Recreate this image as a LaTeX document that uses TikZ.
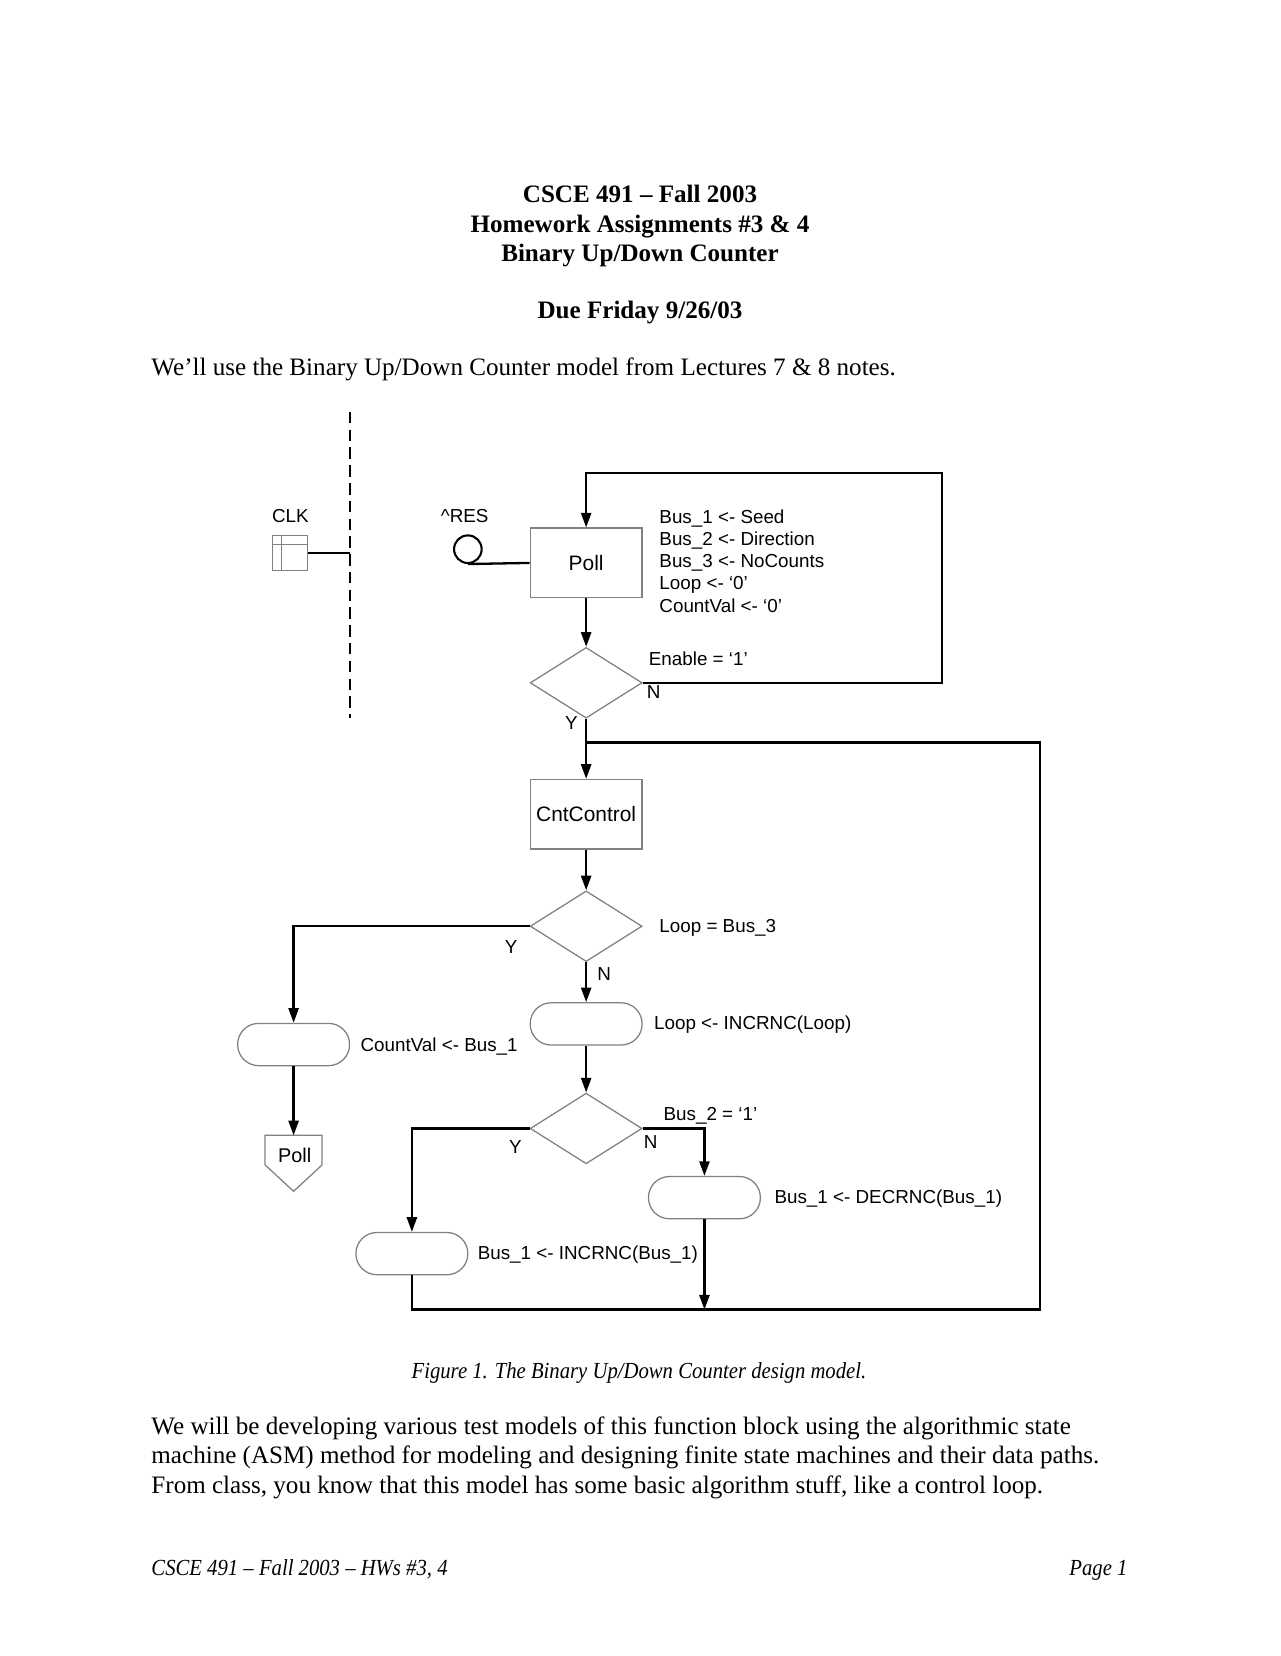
\documentclass[tikz,border=0pt]{standalone}
\usepackage{fontspec}
\setmainfont{Liberation Serif}
\setsansfont{Liberation Sans}
\newfontfamily\narrowserif[FakeStretch=0.9]{Liberation Serif}
\usetikzlibrary{shapes.geometric,arrows.meta}

\tikzset{
  statebox/.style={draw=gray, line width=0.6pt, minimum width=53.5pt, minimum height=33.3pt, inner sep=0pt, font=\sffamily\fontsize{10}{12}\selectfont},
  decision/.style={draw=gray, diamond, line width=0.6pt, minimum width=53.5pt, minimum height=33.8pt, inner sep=0pt},
  condout/.style={draw=gray, rounded corners=10pt, line width=0.6pt, minimum width=53.5pt, minimum height=20.2pt, inner sep=0pt},
  lbl/.style={font=\sffamily\fontsize{9}{10.6}\selectfont, inner sep=0pt},
  flow/.style={line width=1.1pt, -{Triangle[length=7pt,width=4.8pt]}},
  wire/.style={line width=1.1pt},
  page/.style={font=\fontsize{12}{14}\selectfont, inner sep=0pt},
  note/.style={font=\narrowserif\itshape\fontsize{11}{13}\selectfont, inner sep=0pt},
}

\begin{document}
\begin{tikzpicture}[x=0.505pt, y=-0.505pt]
    \fill[white] (0,0) rectangle (1212,1568);
    \useasboundingbox (0,0) rectangle (1212,1568);

    % header
    \node[page, font=\bfseries\fontsize{12}{14}\selectfont, anchor=base] (title1) at (606,192) {CSCE 491 – Fall 2003};
    \node[page, font=\bfseries\fontsize{12}{14}\selectfont, anchor=base] (title2) at (606,220) {Homework Assignments \#3 \& 4};
    \node[page, font=\bfseries\fontsize{12}{14}\selectfont, anchor=base] (title3) at (606,248) {Binary Up/Down Counter};
    \node[page, font=\bfseries\fontsize{12}{14}\selectfont, anchor=base] (due) at (606,302) {Due Friday 9/26/03};
    \node[page, anchor=base west] (intro) at (143,356) {We’ll use the Binary Up/Down Counter model from Lectures 7 \& 8 notes.};

    % clock and reset
    \draw[line width=1pt, dash pattern=on 5.5pt off 3pt] (331,390) coordinate (dtop) -- (331,680) coordinate (dbot);
    \node[lbl, anchor=base] (clklbl) at (275,494.5) {CLK};
    \node[draw=gray, line width=0.5pt, minimum size=16.7pt, inner sep=0pt] (clk) at (274.5,523.5) {};
    \draw[gray, line width=0.5pt] (266.5,507) -- (266.5,540);
    \draw[gray, line width=0.5pt] (258,515.5) -- (291,515.5);
    \coordinate (clkin) at (331,523.5);
    \draw[wire] (clk.east) -- (clkin);

    \node[lbl, anchor=base] (reslbl) at (440,494.5) {\textasciicircum RES};
    \node[circle, draw, line width=1pt, minimum size=13.2pt, inner sep=0pt] (res) at (443,520) {};

    % states and decisions
    \node[statebox] (poll) at (555,533) {Poll};
    \node[decision] (en) at (555,646.5) {};
    \node[statebox] (cnt) at (555,771) {CntControl};
    \node[decision] (lp) at (555,877) {};
    \node[condout] (incl) at (555,969.5) {};
    \node[decision] (dir) at (555,1068.5) {};
    \node[condout] (dec) at (667,1134) {};
    \node[condout] (inc) at (390,1187) {};
    \node[condout] (cval) at (278,989) {};

    % off-page connector
    \coordinate (pollout) at (278,1075);
    \draw[gray, line width=0.6pt] (251,1075) -- (305,1075) -- (305,1103) -- (278,1128) -- (251,1103) -- cycle;
    \node[lbl, font=\sffamily\fontsize{9.5}{11}\selectfont] (pollref) at (279,1094) {Poll};

    % labels
    \foreach \t [count=\i] in {Bus\_1 <- Seed, Bus\_2 <- Direction, Bus\_3 <- NoCounts, Loop <- ‘0’, CountVal <- ‘0’}
        \node[lbl, anchor=base west] (asg\i) at (624,{495.5+21*(\i-1)}) {\t};
    \node[lbl, anchor=base west] (enlbl) at (614,630.5) {Enable = ‘1’};
    \node[lbl, anchor=base] (n1) at (619,661) {N};
    \node[lbl, anchor=base] (y1) at (541,690.5) {Y};
    \node[lbl, anchor=base west] (lplbl) at (624,882.5) {Loop = Bus\_3};
    \node[lbl, anchor=base] (y2) at (484,902.5) {Y};
    \node[lbl, anchor=base] (n2) at (572,928.5) {N};
    \node[lbl, anchor=base west] (incllbl) at (619,974.5) {Loop <- INCRNC(Loop)};
    \node[lbl, anchor=base west] (cvallbl) at (341,995.5) {CountVal <- Bus\_1};
    \node[lbl, anchor=base west] (dirlbl) at (628,1060.5) {Bus\_2 = ‘1’};
    \node[lbl, anchor=base] (n3) at (616,1087.5) {N};
    \node[lbl, anchor=base] (y3) at (488,1092.5) {Y};
    \node[lbl, anchor=base west] (declbl) at (733,1139.5) {Bus\_1 <- DECRNC(Bus\_1)};
    \node[lbl, anchor=base west] (inclbl) at (452,1192.5) {Bus\_1 <- INCRNC(Bus\_1)};

    % connectors
    \coordinate (top) at (892,448);
    \coordinate (join) at (555,703);
    \coordinate (back) at (985,1240);
    \draw[wire] (res.south) -- (poll.west);
    \draw[flow] (poll.south) -- (en.north);
    \draw[flow] (en.east) -| (top) -| (poll.north);
    \draw[flow] (en.south) -- (cnt.north);
    \draw[flow] (cnt.south) -- (lp.north);
    \draw[flow] (lp.west) -| (cval.north);
    \draw[flow] (cval.south) -- (pollout);
    \draw[flow] (lp.south) -- (incl.north);
    \draw[flow] (incl.south) -- (dir.north);
    \draw[flow] (dir.east) -| (dec.north);
    \draw[flow] (dir.west) -| (inc.north);
    \draw[wire] (inc.south) |- (back) |- (join);
    \draw[flow] (dec.south) -- (dec.south |- back);

    % caption and text
    \node[note, anchor=base] (caption) at (605,1305) {Figure 1. The Binary Up/Down Counter design model.};
    \node[page, anchor=base west] (par1) at (143,1358) {We will be developing various test models of this function block using the algorithmic state};
    \node[page, anchor=base west] (par2) at (143,1386) {machine (ASM) method for modeling and designing finite state machines and their data paths.};
    \node[page, anchor=base west] (par3) at (143,1414) {From class, you know that this model has some basic algorithm stuff, like a control loop.};
    \node[note, anchor=base west] (foot) at (143,1492) {CSCE 491 – Fall 2003 – HWs \#3, 4};
    \node[note, anchor=base east] (pageno) at (1068,1492) {Page 1};
\end{tikzpicture}
\end{document}
